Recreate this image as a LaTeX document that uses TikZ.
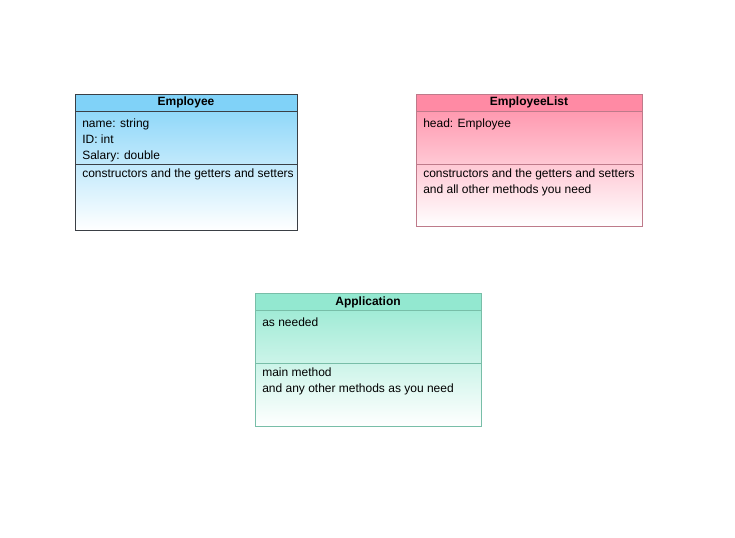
\documentclass[tikz,border=0pt]{standalone}
\usepackage{fontspec}
\setmainfont{Liberation Sans}
\usepackage{xcolor}
\usetikzlibrary{positioning}

\definecolor{empblue}{HTML}{80D2F8}
\definecolor{empline}{HTML}{3A3F45}
\definecolor{listpink}{HTML}{FF8AA4}
\definecolor{listline}{HTML}{BE7A8A}
\definecolor{appgreen}{HTML}{93E8D0}
\definecolor{appline}{HTML}{78BEA8}

\tikzset{
  classname/.style={font=\fontsize{9}{12}\selectfont\bfseries, inner sep=0pt},
  classtext/.style={font=\fontsize{9}{12}\selectfont, align=left, anchor=north west, inner sep=0pt}
}

\begin{document}
\begin{tikzpicture}[x=0.75pt, y=-0.75pt]
    \useasboundingbox[fill=white] (0,0) rectangle (735,537);

    % Employee
    \shade[top color=empblue, bottom color=white] (75,94) rectangle (297,230);
    \fill[empblue] (75,94) rectangle (297,111.5);
    \draw[empline] (75,94) rectangle (297,230);
    \draw[empline] (75,111.5) -- (297,111.5);
    \draw[empline] (75,164.5) -- (297,164.5);
    \node[classname] (emptitle) at (186,102.75) {Employee};
    \node[classtext] (empattr) at (82,116.1) {\strut name: string\\ID: int\\Salary: double};
    \node[classtext] (empmeth) at (82,166.1) {\strut constructors and the getters and setters};

    % EmployeeList
    \shade[top color=listpink, bottom color=white] (416,94) rectangle (642,226);
    \fill[listpink] (416,94) rectangle (642,111.5);
    \draw[listline] (416,94) rectangle (642,226);
    \draw[listline] (416,111.5) -- (642,111.5);
    \draw[listline] (416,164.5) -- (642,164.5);
    \node[classname] (listtitle) at (529,102.75) {EmployeeList};
    \node[classtext] (listattr) at (423,115.6) {\strut head: Employee};
    \node[classtext] (listmeth) at (423,166.1) {\strut constructors and the getters and setters\\and all other methods you need};

    % Application
    \shade[top color=appgreen, bottom color=white] (255,293.5) rectangle (481,426);
    \fill[appgreen] (255,293.5) rectangle (481,310.5);
    \draw[appline] (255,293.5) rectangle (481,426);
    \draw[appline] (255,310.5) -- (481,310.5);
    \draw[appline] (255,363.5) -- (481,363.5);
    \node[classname] (apptitle) at (368,302) {Application};
    \node[classtext] (appattr) at (262,315) {\strut as needed};
    \node[classtext] (appmeth) at (262,364.9) {\strut main method\\and any other methods as you need};
\end{tikzpicture}
\end{document}
